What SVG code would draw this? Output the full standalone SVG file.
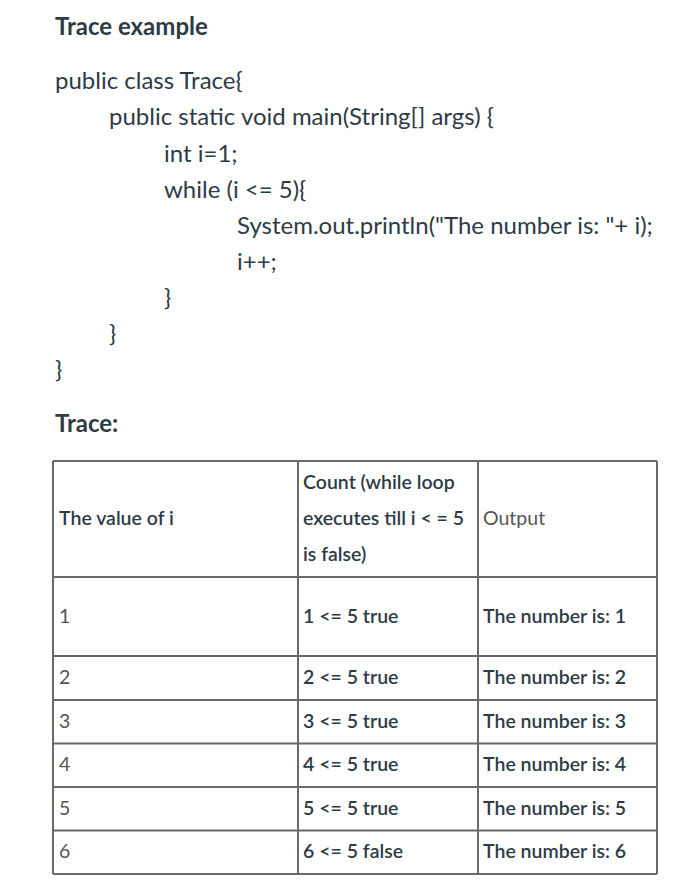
<svg xmlns="http://www.w3.org/2000/svg" width="697" height="889" viewBox="0 0 697 889">
<style>
text{font-family:Lato,"Open Sans",sans-serif;fill:#2d3b45}
.c{font-size:24px}
.h{font-size:24px;font-weight:bold}
.t{font-size:19.5px;font-weight:600;fill:#2d3b45}
.r{font-size:19.5px;fill:#555}
line{stroke:#6a6a6a;stroke-width:2}
</style>
<rect width="697" height="889" fill="#fff"/>
<text class="h" x="55" y="35">Trace example</text>
<text class="c" x="55" y="89">public class Trace{</text>
<text class="c" x="109" y="125">public static void main(String[] args) {</text>
<text class="c" x="164" y="162">int i=1;</text>
<text class="c" x="164" y="198">while (i &lt;= 5){</text>
<text class="c" x="237" y="234">System.out.println("The number is: "+ i);</text>
<text class="c" x="237" y="270">i++;</text>
<text class="c" x="164" y="306">}</text>
<text class="c" x="109" y="342">}</text>
<text class="c" x="55" y="378">}</text>
<text class="h" x="55" y="432">Trace:</text>
<g id="table">
<line x1="53" y1="461" x2="657" y2="461"/>
<line x1="53" y1="577" x2="657" y2="577"/>
<line x1="53" y1="656" x2="657" y2="656"/>
<line x1="53" y1="700" x2="657" y2="700"/>
<line x1="53" y1="743.5" x2="657" y2="743.5"/>
<line x1="53" y1="787" x2="657" y2="787"/>
<line x1="53" y1="830.5" x2="657" y2="830.5"/>
<line x1="53" y1="874" x2="657" y2="874"/>
<line x1="53" y1="461" x2="53" y2="874"/>
<line x1="298" y1="461" x2="298" y2="874"/>
<line x1="478" y1="461" x2="478" y2="874"/>
<line x1="657" y1="461" x2="657" y2="874"/>
</g>
<text class="t" x="59" y="525">The value of i</text>
<text class="t" x="303" y="489">Count (while loop</text>
<text class="t" x="303" y="525">executes till i &lt; = 5</text>
<text class="t" x="303" y="561">is false)</text>
<text class="r" x="483" y="525">Output</text>
<text class="r" x="59" y="623">1</text>
<text class="t" x="303" y="623">1 &lt;= 5 true</text>
<text class="t" x="483" y="623">The number is: 1</text>
<text class="r" x="59" y="684">2</text>
<text class="t" x="303" y="684">2 &lt;= 5 true</text>
<text class="t" x="483" y="684">The number is: 2</text>
<text class="r" x="59" y="728">3</text>
<text class="t" x="303" y="728">3 &lt;= 5 true</text>
<text class="t" x="483" y="728">The number is: 3</text>
<text class="r" x="59" y="771">4</text>
<text class="t" x="303" y="771">4 &lt;= 5 true</text>
<text class="t" x="483" y="771">The number is: 4</text>
<text class="r" x="59" y="815">5</text>
<text class="t" x="303" y="815">5 &lt;= 5 true</text>
<text class="t" x="483" y="815">The number is: 5</text>
<text class="r" x="59" y="858">6</text>
<text class="t" x="303" y="858">6 &lt;= 5 false</text>
<text class="t" x="483" y="858">The number is: 6</text>
</svg>
